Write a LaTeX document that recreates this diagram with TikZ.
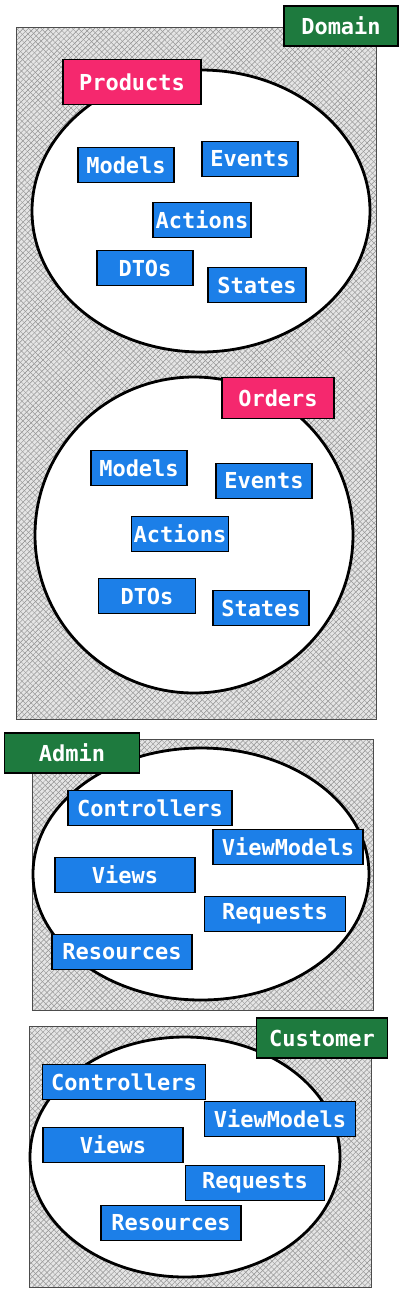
\documentclass[tikz,border=0pt]{standalone}
\usepackage{fontspec}
\setmonofont{DejaVu Sans Mono}
\usetikzlibrary{patterns.meta}
\definecolor{itemblue}{HTML}{1C7FE8}
\definecolor{tagpink}{HTML}{F5286E}
\definecolor{taggreen}{HTML}{1E7A3E}
\tikzset{
  item/.style={draw=black, line width=1.1pt, fill=itemblue, text=white,
    font=\ttfamily\bfseries\fontsize{22}{24}\selectfont,
    minimum height=35pt, inner sep=0pt, anchor=center},
  tagp/.style={item, fill=tagpink, minimum height=45pt},
  tagg/.style={item, fill=taggreen, minimum height=40pt},
  zone/.style={draw=black!70, line width=1pt},
  hatchA/.style={pattern={Lines[angle=45,distance=3.6pt,line width=0.45pt]}, pattern color=black!45},
  hatchB/.style={pattern={Lines[angle=-45,distance=4.4pt,line width=0.45pt]}, pattern color=black!40},
  blob/.style={draw=black, line width=2.8pt, fill=white},
}
\begin{document}
\begin{tikzpicture}[x=1pt,y=-1pt]
\useasboundingbox (0,0) rectangle (403,1294);
% ---------- Domain ----------
\fill[black!10] (16,27) rectangle (376,719);
\fill[hatchA] (16,27) rectangle (376,719);
\fill[hatchB] (16,27) rectangle (376,719);
\draw[zone] (16,27) rectangle (376,719);
\draw[blob] (201,211) ellipse [x radius=169, y radius=141];
\draw[blob] (194,535) ellipse [x radius=159, y radius=158];
\node[tagg, minimum width=114pt] (domain) at (341,26) {Domain};
\node[tagp, minimum width=138pt] (products) at (132,82) {Products};
\node[item, minimum width=96pt] (pmodels) at (126,165) {Models};
\node[item, minimum width=96pt] (pevents) at (250,159) {Events};
\node[item, minimum width=98pt] (pactions) at (202,220) {Actions};
\node[item, minimum width=96pt] (pdtos) at (145,268) {DTOs};
\node[item, minimum width=98pt] (pstates) at (257,285) {States};
\node[tagp, minimum width=112pt, minimum height=41pt] (orders) at (278,398) {Orders};
\node[item, minimum width=96pt] (omodels) at (139,468) {Models};
\node[item, minimum width=96pt] (oevents) at (264,481) {Events};
\node[item, minimum width=97pt] (oactions) at (180,534) {Actions};
\node[item, minimum width=97pt] (odtos) at (147,596) {DTOs};
\node[item, minimum width=96pt] (ostates) at (261,608) {States};
% ---------- Admin ----------
\fill[black!10] (32,739) rectangle (373,1010);
\fill[hatchA] (32,739) rectangle (373,1010);
\fill[hatchB] (32,739) rectangle (373,1010);
\draw[zone] (32,739) rectangle (373,1010);
\draw[blob] (201,874) ellipse [x radius=168, y radius=126];
\node[tagg, minimum width=135pt] (admin) at (72,753) {Admin};
\node[item, minimum width=164pt] (acontrollers) at (150,808) {Controllers};
\node[item, minimum width=150pt] (aviewmodels) at (288,847) {ViewModels};
\node[item, minimum width=140pt] (aviews) at (125,875) {Views};
\node[item, minimum width=141pt] (arequests) at (275,914) {Requests};
\node[item, minimum width=140pt] (aresources) at (122,952) {Resources};
% ---------- Customer ----------
\fill[black!10] (29,1026) rectangle (371,1287);
\fill[hatchA] (29,1026) rectangle (371,1287);
\fill[hatchB] (29,1026) rectangle (371,1287);
\draw[zone] (29,1026) rectangle (371,1287);
\draw[blob] (185,1157) ellipse [x radius=155, y radius=120];
\node[tagg, minimum width=131pt] (customer) at (322,1038) {Customer};
\node[item, minimum width=163pt] (ccontrollers) at (124,1082) {Controllers};
\node[item, minimum width=151pt] (cviewmodels) at (280,1119) {ViewModels};
\node[item, minimum width=140pt] (cviews) at (113,1145) {Views};
\node[item, minimum width=139pt] (crequests) at (255,1183) {Requests};
\node[item, minimum width=140pt] (cresources) at (171,1223) {Resources};
\end{tikzpicture}
\end{document}
